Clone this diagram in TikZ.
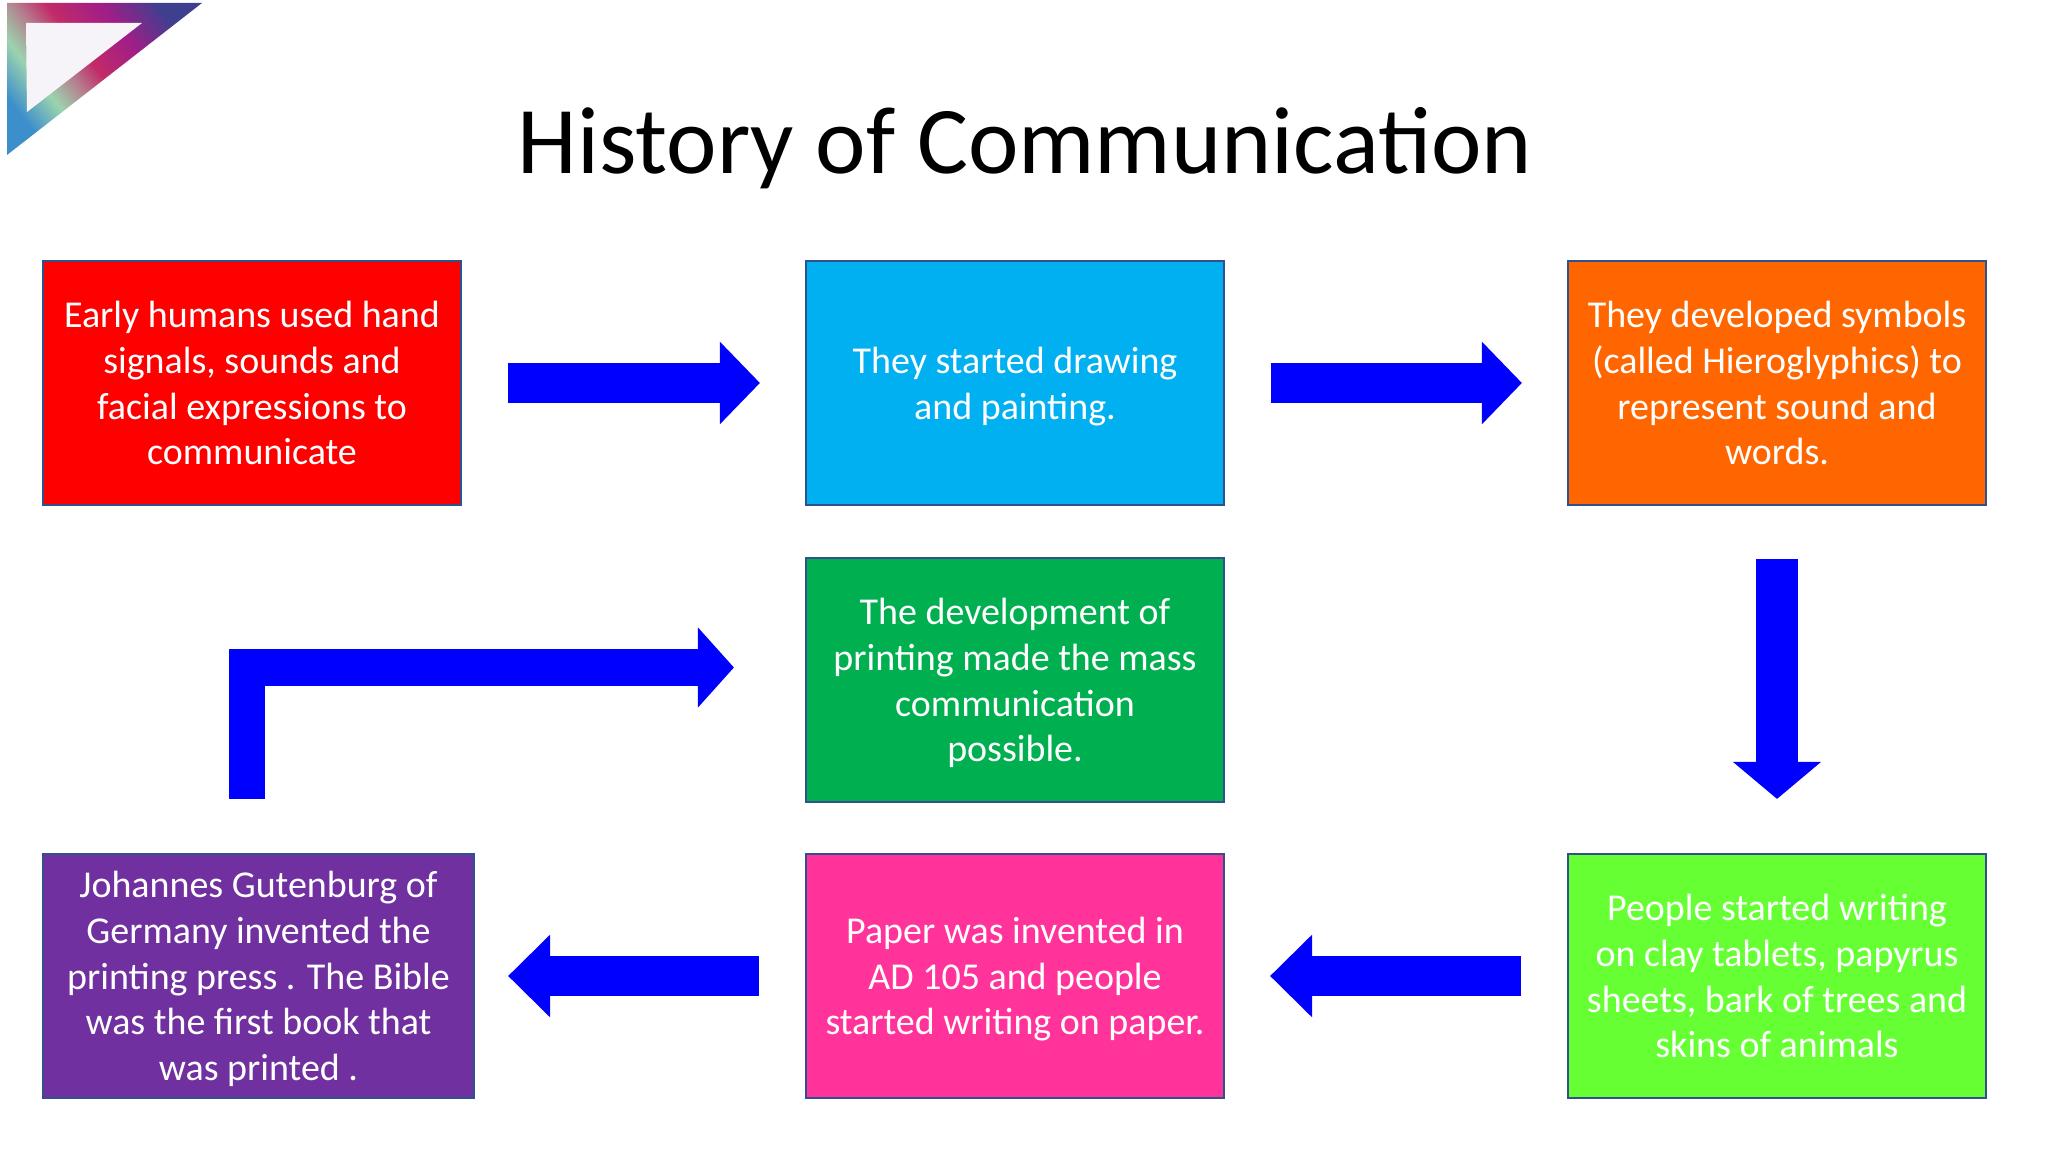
\documentclass[tikz,border=0pt]{standalone}
\usepackage{fontspec}
\setmainfont{Carlito}
\usetikzlibrary{arrows.meta, calc}

% corner badge colours, needed by the shading below
\definecolor{cbadgeblue}{HTML}{3D8FCB}
\definecolor{cbadgegreen}{HTML}{9CD3AE}
\definecolor{cbadgegrey}{HTML}{B4808F}
\definecolor{cbadgecrimson}{HTML}{C22A68}
\definecolor{cbadgemagenta}{HTML}{A01E88}
\definecolor{cbadgeindigo}{HTML}{3F3F8F}

\pgfdeclarehorizontalshading{badgeshade}{100bp}{%
  color(0bp)=(cbadgeblue); color(25bp)=(cbadgeblue);
  color(35bp)=(cbadgegreen); color(43bp)=(cbadgegrey);
  color(50bp)=(cbadgecrimson); color(62bp)=(cbadgemagenta);
  color(75bp)=(cbadgeindigo); color(100bp)=(cbadgeindigo)}

\begin{document}
\begin{tikzpicture}[
    x=0.1mm, y=-0.1mm,   % one unit = one pixel of the slide, y downwards
    every node/.style={font=\fontsize{10.8}{13}\selectfont},
    stage/.style={draw=edgeblue, line width=0.6pt, text=white, align=center,
        minimum width=41.8mm, minimum height=24.4mm, inner sep=0pt,
        text depth=-0.4mm},   % centre on the baselines, not on the descenders
    flow/.style={draw=arrowblue, line width=4mm, line cap=butt,
        -{Triangle[length=4mm, width=8mm]},
        shorten <=4.6mm, shorten >=4.5mm},
]

\definecolor{edgeblue}{HTML}{2F528F}
\definecolor{arrowblue}{HTML}{0000FF}
\definecolor{cred}{HTML}{FF0000}
\definecolor{ccyan}{HTML}{00B0F0}
\definecolor{corange}{HTML}{FF6600}
\definecolor{cgreen}{HTML}{00B050}
\definecolor{clime}{HTML}{66FF33}
\definecolor{cpink}{HTML}{FF3399}
\definecolor{cpurple}{HTML}{7030A0}
\definecolor{badgeinner}{HTML}{F6F4F8}

\fill[white] (0,0) rectangle (2048,1152);
\useasboundingbox (0,0) rectangle (2048,1152);

% ---------------------------------------------------------------- badge
\shade[shading=badgeshade, shading angle=38] (7,3) -- (202,3) -- (7,155) -- cycle;
\fill[badgeinner] (26,23) -- (142,23) -- (27,112) -- cycle;

% ---------------------------------------------------------------- title
\node[font=\fontsize{27.2}{32}\selectfont, anchor=base] (title) at (1025,174)
    {History of Communication};

% ---------------------------------------------------------------- stages
\node[stage, fill=cred] (early) at (252,383)
    {Early humans used hand\\signals, sounds and\\facial expressions to\\communicate};
\node[stage, fill=ccyan] (drawing) at (1015,383)
    {They started drawing\\and painting.};
\node[stage, fill=corange] (symbols) at (1777,383)
    {They developed symbols\\(called Hieroglyphics) to\\represent sound and\\words.};
\node[stage, fill=cgreen] (printing) at (1015,680)
    {The development of\\printing made the mass\\communication\\possible.};
\node[stage, fill=clime] (clay) at (1777,976)
    {People started writing\\on clay tablets, papyrus\\sheets, bark of trees and\\skins of animals};
\node[stage, fill=cpink] (paper) at (1015,976)
    {Paper was invented in\\AD 105 and people\\started writing on paper.};
\node[stage, fill=cpurple, minimum width=43.1mm] (gutenberg) at (258.5,976)
    {Johannes Gutenburg of\\Germany invented the\\printing press . The Bible\\was the first book that\\was printed .};

% ---------------------------------------------------------------- arrows
\draw[flow] (early) -- (drawing);
\draw[flow] (drawing) -- (symbols);
\draw[flow, line width=4.2mm, -{Triangle[length=3.7mm, width=8.6mm]},
    shorten <=5.3mm, shorten >=5.4mm] (symbols) -- (clay);
\draw[flow, -{Triangle[length=4.2mm, width=8mm]}] (clay) -- (paper);
\draw[flow, -{Triangle[length=4.2mm, width=8mm]}, shorten >=3.3mm] (paper) -- (gutenberg);

\coordinate (bendfoot) at ($(gutenberg.north)+(-11.5,-54)$);
\coordinate (bendtip) at ($(printing.west)+(-71,-12.5)$);
\draw[arrowblue, line width=3.66mm, line join=miter,
    -{Triangle[length=3.6mm, width=7.8mm]}] (bendfoot) |- (bendtip);

\end{tikzpicture}
\end{document}
